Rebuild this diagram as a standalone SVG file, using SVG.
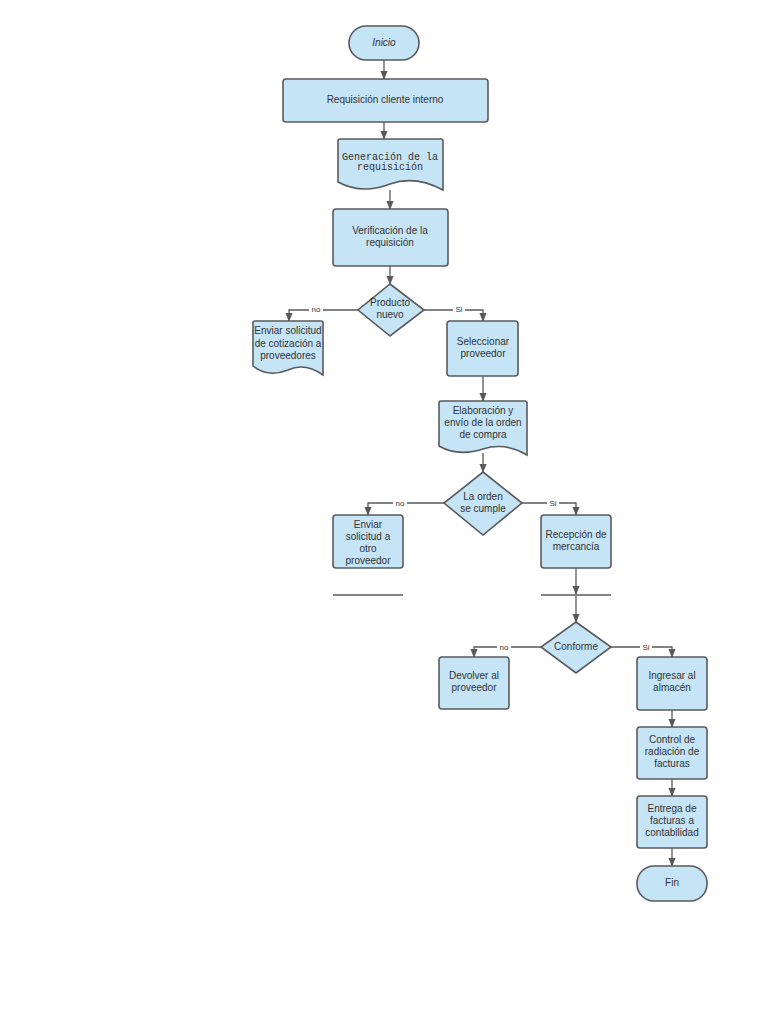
<svg xmlns="http://www.w3.org/2000/svg" width="768" height="1024" viewBox="0 0 768 1024">
<style>
.n{fill:#c5e4f6;stroke:#5a5a5a;stroke-width:1.6}
.t{font-family:"Liberation Sans",Arial,sans-serif;font-size:10px;fill:#333;text-anchor:middle}
.m{font-family:"Liberation Mono","Courier New",monospace;font-size:10px;fill:#333;text-anchor:middle}
.l{font-family:"Liberation Sans",Arial,sans-serif;font-size:8px;fill:#333;text-anchor:middle}
.c{fill:none;stroke:#5a5a5a;stroke-width:1.3;marker-end:url(#a)}
.p{fill:none;stroke:#5a5a5a;stroke-width:1.3}
</style>
<defs><marker id="a" viewBox="0 0 10 10" refX="9" refY="5" markerWidth="7" markerHeight="7" orient="auto"><path d="M0,1 L10,5 L0,9 z" fill="#5a5a5a"/></marker></defs>
<rect width="768" height="1024" fill="#fff"/>
<g id="connectors">
<path class="c" d="M384,60 V79"/>
<path class="c" d="M384,122 V139"/>
<path class="c" d="M390,190 V209"/>
<path class="c" d="M390,266 V284"/>
<path class="c" d="M358,310 H289 V321"/>
<path class="c" d="M424,310 H483 V321"/>
<path class="c" d="M483,376 V401"/>
<path class="c" d="M483,453 V472"/>
<path class="c" d="M444,503 H368 V515"/>
<path class="c" d="M522,503 H576 V515"/>
<path class="c" d="M576,568 V594"/>
<path class="c" d="M576,596 V622"/>
<path class="c" d="M541,647 H474 V657"/>
<path class="c" d="M611,647 H672 V657"/>
<path class="c" d="M672,710 V727"/>
<path class="c" d="M672,779 V796"/>
<path class="c" d="M672,848 V866"/>
<path class="p" d="M333,595 H403"/>
<path class="p" d="M541,595 H611"/>
<rect x="309" y="305" width="14" height="9" fill="#fff"/><text class="l" x="316" y="312">no</text>
<rect x="453" y="305" width="12" height="9" fill="#fff"/><text class="l" x="459" y="312">Si</text>
<rect x="393" y="498" width="14" height="9" fill="#fff"/><text class="l" x="400" y="506">no</text>
<rect x="547" y="498" width="12" height="9" fill="#fff"/><text class="l" x="553" y="506">Si</text>
<rect x="497" y="642" width="14" height="9" fill="#fff"/><text class="l" x="504" y="650">no</text>
<rect x="640" y="642" width="12" height="9" fill="#fff"/><text class="l" x="646" y="650">Si</text>
</g>
<g id="inicio"><rect class="n" x="349" y="26" width="70" height="34" rx="17"/><text class="t" x="384" y="46" font-style="italic">Inicio</text></g>
<g id="req"><rect class="n" x="283" y="79" width="205" height="43" rx="3"/><text class="t" x="385" y="103">Requisición cliente interno</text></g>
<g id="gen"><path class="n" d="M338,141 Q338,139 340,139 H441 Q443,139 443,141 V190 Q415,175 390,184 Q362,195 338,182 Z"/><text class="m" x="390" y="160">Generación de la</text><text class="m" x="390" y="170">requisición</text></g>
<g id="ver"><rect class="n" x="333" y="209" width="115" height="57" rx="3"/><text class="t" x="390" y="234">Verificación de la</text><text class="t" x="390" y="246">requisición</text></g>
<g id="prod"><path class="n" d="M390,284 L424,310 L390,336 L358,310 Z"/><text class="t" x="390" y="306">Producto</text><text class="t" x="390" y="318">nuevo</text></g>
<g id="env1"><path class="n" d="M253,323 Q253,321 255,321 H321 Q323,321 323,323 V375 Q305,362 288,370 Q268,378 253,366 Z"/><text class="t" x="288" y="334">Enviar solicitud</text><text class="t" x="288" y="347">de cotización a</text><text class="t" x="288" y="359">proveedores</text></g>
<g id="sel"><rect class="n" x="447" y="321" width="71" height="55" rx="3"/><text class="t" x="483" y="345">Seleccionar</text><text class="t" x="483" y="357">proveedor</text></g>
<g id="ela"><path class="n" d="M439,403 Q439,401 441,401 H525 Q527,401 527,403 V455 Q505,442 483,449 Q458,457 439,446 Z"/><text class="t" x="483" y="414">Elaboración y</text><text class="t" x="483" y="426">envío de la orden</text><text class="t" x="483" y="438">de compra</text></g>
<g id="orden"><path class="n" d="M483,472 L522,503 L483,535 L444,503 Z"/><text class="t" x="483" y="500">La orden</text><text class="t" x="483" y="512">se cumple</text></g>
<g id="env2"><rect class="n" x="333" y="515" width="70" height="53" rx="3"/><text class="t" x="368" y="528">Enviar</text><text class="t" x="368" y="540">solicitud a</text><text class="t" x="368" y="552">otro</text><text class="t" x="368" y="564">proveedor</text></g>
<g id="rec"><rect class="n" x="541" y="515" width="70" height="53" rx="3"/><text class="t" x="576" y="538">Recepción de</text><text class="t" x="576" y="550">mercancía</text></g>
<g id="conf"><path class="n" d="M576,622 L611,647 L576,673 L541,647 Z"/><text class="t" x="576" y="650">Conforme</text></g>
<g id="dev"><rect class="n" x="439" y="657" width="70" height="52" rx="3"/><text class="t" x="474" y="679">Devolver al</text><text class="t" x="474" y="691">proveedor</text></g>
<g id="ing"><rect class="n" x="637" y="657" width="70" height="53" rx="3"/><text class="t" x="672" y="679">Ingresar al</text><text class="t" x="672" y="691">almacén</text></g>
<g id="ctrl"><rect class="n" x="637" y="727" width="70" height="52" rx="3"/><text class="t" x="672" y="743">Control de</text><text class="t" x="672" y="755">radiación de</text><text class="t" x="672" y="767">facturas</text></g>
<g id="ent"><rect class="n" x="637" y="796" width="70" height="52" rx="3"/><text class="t" x="672" y="812">Entrega de</text><text class="t" x="672" y="824">facturas a</text><text class="t" x="672" y="836">contabilidad</text></g>
<g id="fin"><rect class="n" x="637" y="866" width="70" height="35" rx="17"/><text class="t" x="672" y="886">Fin</text></g>
</svg>
